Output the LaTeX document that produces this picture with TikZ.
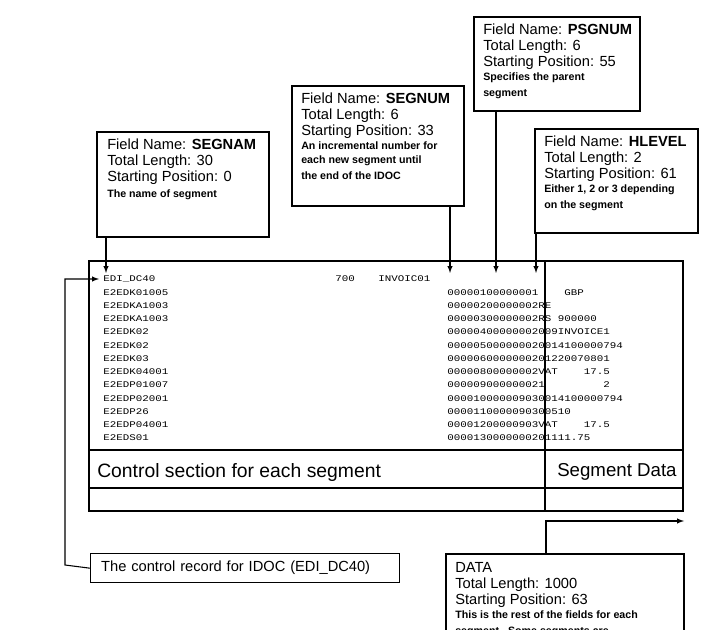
\documentclass[tikz,border=0pt]{standalone}
\usepackage{fontspec}
\setmainfont{Liberation Sans}
\newfontfamily\cour[FakeStretch=1.25]{Liberation Mono}
\newcommand{\mysm}{\fontsize{11}{12}\selectfont}
\newcommand{\mytn}{\fontsize{8}{10.5}\selectfont\bfseries}
\begin{document}
\begin{tikzpicture}[x=0.75pt,y=-0.75pt,
  ftxt/.style={anchor=north west,align=flush left,inner sep=0pt,font=\mysm},
  ar/.style={-latex,thick},
  ln/.style={thick},
  mono/.style={font=\cour\fontsize{6.5}{6.5}\selectfont,anchor=west,inner sep=0pt}]
\useasboundingbox (0,0) rectangle (727,630);
\clip (0,0) rectangle (727,630);
% field boxes
\draw[ln] (97,132) rectangle (269,237);
\node[ftxt,text width=122pt] (segnam) at (107,139) {Field Name: \textbf{SEGNAM}\\ Total Length: 30\\ Starting Position: 0\\ \mytn The name of segment};
\draw[ln] (292,86) rectangle (464,206);
\node[ftxt,text width=124pt] (segnum) at (301,93) {Field Name: \textbf{SEGNUM}\\ Total Length: 6\\ Starting Position: 33\\ \mytn An incremental number for\\ each new segment until\\ the end of the IDOC};
\draw[ln] (474,17) rectangle (640,111);
\node[ftxt,text width=118pt] (psgnum) at (483,24) {Field Name: \textbf{PSGNUM}\\ Total Length: 6\\ Starting Position: 55\\ \mytn Specifies the parent\\ segment};
\draw[ln] (535,129) rectangle (698,233);
\node[ftxt,text width=118pt] (hlevel) at (544,136) {Field Name: \textbf{HLEVEL}\\ Total Length: 2\\ Starting Position: 61\\ \mytn Either 1, 2 or 3 depending\\ on the segment};
% main box
\draw[ln] (89,261) rectangle (683,511);
\draw[ln] (89,450) -- (683,450);
\draw[ln] (89,488) -- (683,488);
\draw[ln] (545,261) -- (545,511);
\node[anchor=west,inner sep=0pt,font=\fontsize{14.5}{14.5}\selectfont] (cs) at (97,472) {Control section for each segment};
\node[anchor=west,inner sep=0pt,font=\fontsize{14}{14}\selectfont] (sd) at (557,472) {Segment Data};
% rows
\node[mono] (r0) at (103,279) {EDI\_DC40};
\node[mono] (r0b) at (335,279) {700};
\node[mono] (r0c) at (378,279) {INVOIC01};
\foreach \i/\a/\b in {1/E2EDK01005/{00000100000001\ \ \ \ GBP},2/E2EDKA1003/00000200000002RE,3/E2EDKA1003/{00000300000002RS 900000},4/E2EDK02/00000400000002009INVOICE1,5/E2EDK02/000005000000020014100000794,6/E2EDK03/0000060000000201220070801,7/E2EDK04001/{00000800000002VAT\ \ \ \ 17.5},8/E2EDP01007/{000009000000021\ \ \ \ \ \ \ \ \ 2},9/E2EDP02001/000010000009030014100000794,10/E2EDP26/0000110000090300510,11/E2EDP04001/{00001200000903VAT\ \ \ \ 17.5},12/E2EDS01/0000130000000201111.75}{
  \node[mono] (ra\i) at (103,{279+13.25*\i}) {\a};
  \node[mono] (rb\i) at (447,{279+13.25*\i}) {\b};
}
% arrows
\coordinate (a1) at (106,237);
\coordinate (a2) at (450,206);
\coordinate (a3) at (496,111);
\coordinate (a4) at (536,233);
\draw[ar] (a1) -- (106,273);
\draw[ar] (a2) -- (450,273);
\draw[ar] (a3) -- (496,273);
\draw[ar] (a4) -- (536,273);
% control record
\node[draw,thick,anchor=north west,minimum width=232pt,minimum height=22pt,text width=216pt,inner xsep=7pt,align=left,font=\mysm] (cr) at (90,553) {The control record for IDOC (EDI\_DC40)};
\coordinate (c1) at (65,565);
\coordinate (c2) at (65,279);
\coordinate (c3) at (99,279);
\draw[ar] (cr.west) -- (c1) -- (c2) -- (c3);
% data
\draw[ln] (446,554) rectangle (684,660);
\node[ftxt,text width=168pt] (data) at (455,562) {DATA\\ Total Length: 1000\\ Starting Position: 63\\ \mytn This is the rest of the fields for each\\ segment.\ \ Some segments are};
\coordinate (d1) at (546,521);
\coordinate (d2) at (684,521);
\draw[ar] (546,554) -- (d1) -- (d2);
\end{tikzpicture}
\end{document}
